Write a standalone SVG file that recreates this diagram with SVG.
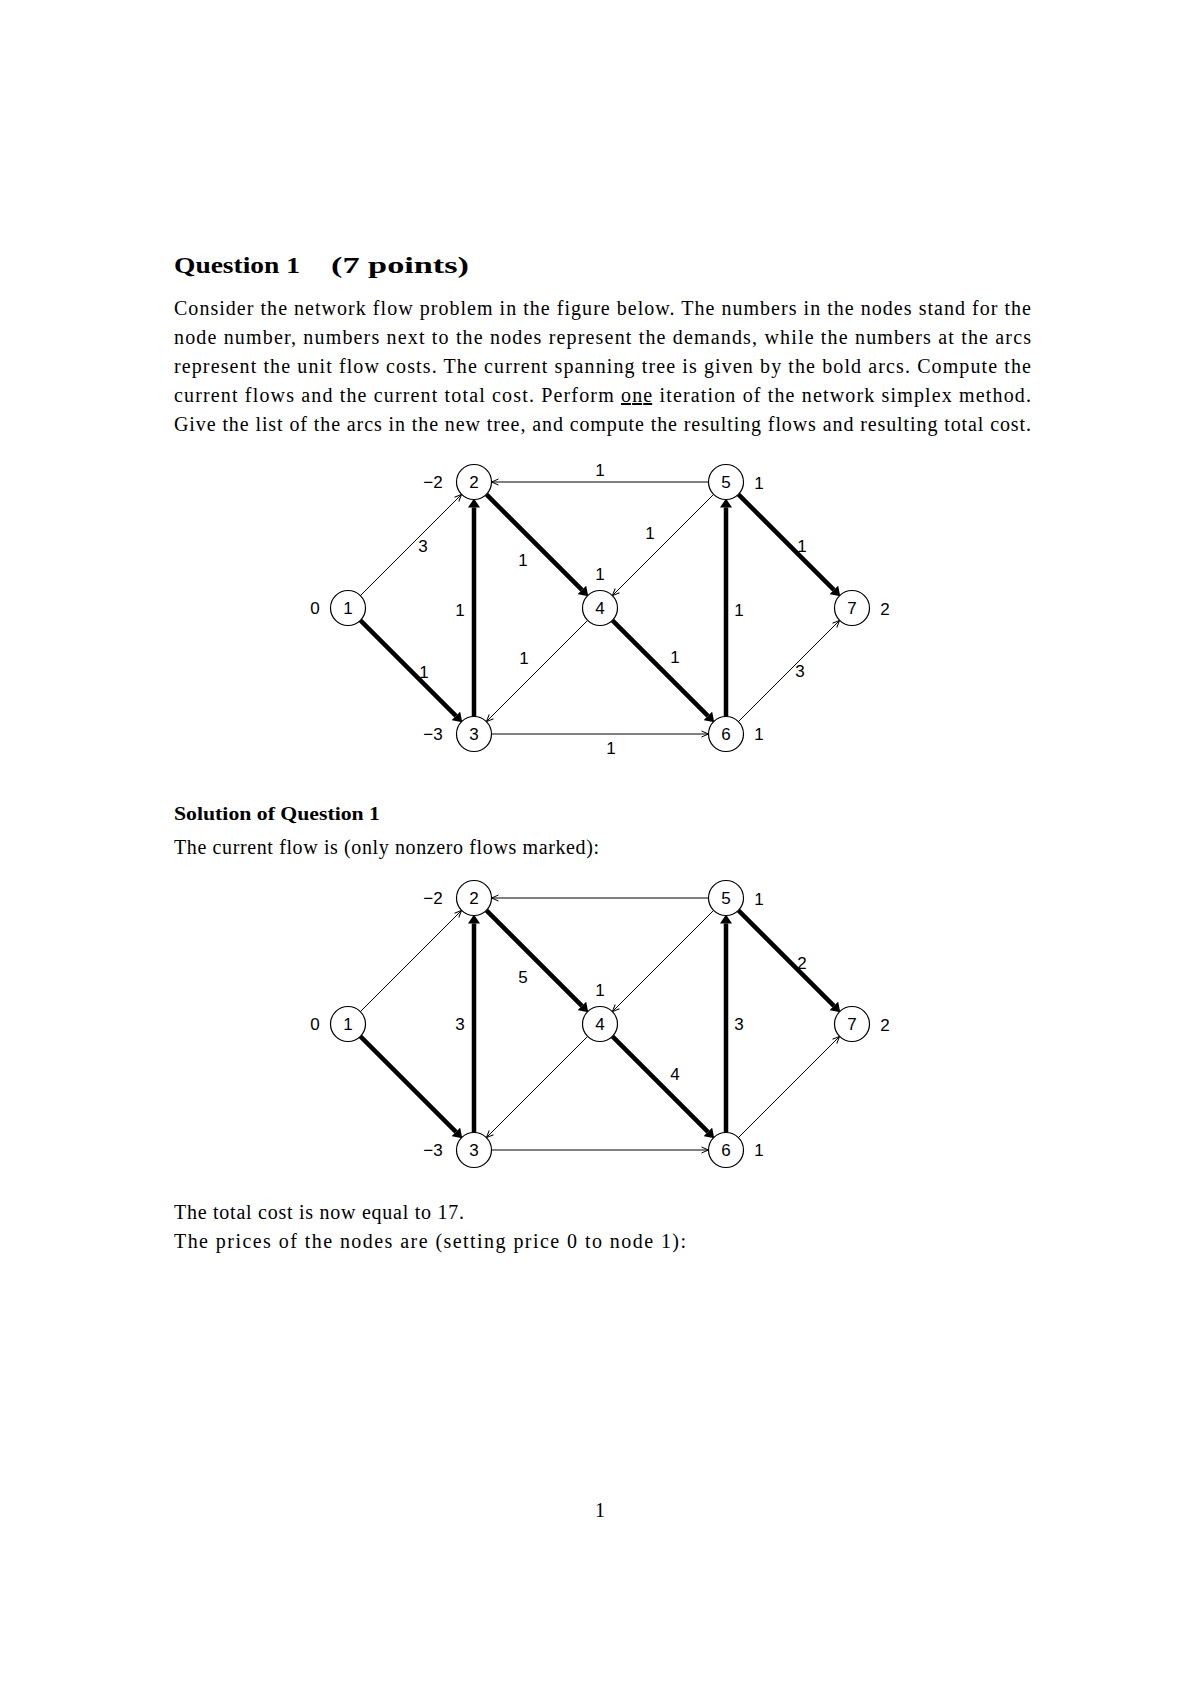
<svg xmlns="http://www.w3.org/2000/svg" width="1200" height="1696" viewBox="0 0 1200 1696">
<style>
.body{font-family:"Liberation Serif","DejaVu Serif",serif;font-size:20px;fill:#000}
.head{font-family:"Liberation Serif","DejaVu Serif",serif;font-weight:bold;fill:#000}
.lbl{font-family:"Liberation Sans","DejaVu Sans",sans-serif;font-size:17px;fill:#000;text-anchor:middle}
.node circle{fill:#fff;stroke:#000;stroke-width:1.2}
.thin{stroke:#000;stroke-width:1;fill:none}
.bold{stroke:#000;stroke-width:4.5;fill:none}
</style>
<defs>
<marker id="at" markerUnits="userSpaceOnUse" viewBox="0 0 7 6" markerWidth="7" markerHeight="6" refX="7" refY="3" orient="auto" overflow="visible">
<path d="M0,0 L7,3 L0,6" fill="none" stroke="#000" stroke-width="1"/>
</marker>
<marker id="ab" markerUnits="userSpaceOnUse" viewBox="0 0 9 12" markerWidth="9" markerHeight="12" refX="0" refY="6" orient="auto">
<path d="M0,0 L9,6 L0,12 z" fill="#000"/>
</marker>
<g id="graph">
<g id="connectors">
<path class="thin" marker-end="url(#at)" d="M360.4,595.6 L461.6,494.4"/>
<path class="bold" marker-end="url(#ab)" d="M360.4,620.4 L455.9,715.9"/>
<path class="bold" marker-end="url(#ab)" d="M474,716.5 L474,507.5"/>
<path class="bold" marker-end="url(#ab)" d="M486.4,494.4 L581.9,589.9"/>
<path class="thin" marker-end="url(#at)" d="M708.5,482 L491.5,482"/>
<path class="thin" marker-end="url(#at)" d="M713.6,494.4 L612.4,595.6"/>
<path class="thin" marker-end="url(#at)" d="M587.6,620.4 L486.4,721.6"/>
<path class="thin" marker-end="url(#at)" d="M491.5,734 L708.5,734"/>
<path class="bold" marker-end="url(#ab)" d="M612.4,620.4 L707.9,715.9"/>
<path class="bold" marker-end="url(#ab)" d="M726,716.5 L726,507.5"/>
<path class="bold" marker-end="url(#ab)" d="M738.4,494.4 L833.9,589.9"/>
<path class="thin" marker-end="url(#at)" d="M738.4,721.6 L839.6,620.4"/>
</g>
<g id="n1" class="node"><circle cx="348" cy="608" r="17.5"/><text class="lbl" x="348" y="614">1</text></g>
<g id="n2" class="node"><circle cx="474" cy="482" r="17.5"/><text class="lbl" x="474" y="488">2</text></g>
<g id="n3" class="node"><circle cx="474" cy="734" r="17.5"/><text class="lbl" x="474" y="740">3</text></g>
<g id="n4" class="node"><circle cx="600" cy="608" r="17.5"/><text class="lbl" x="600" y="614">4</text></g>
<g id="n5" class="node"><circle cx="726" cy="482" r="17.5"/><text class="lbl" x="726" y="488">5</text></g>
<g id="n6" class="node"><circle cx="726" cy="734" r="17.5"/><text class="lbl" x="726" y="740">6</text></g>
<g id="n7" class="node"><circle cx="852" cy="608" r="17.5"/><text class="lbl" x="852" y="614">7</text></g>
<g id="demands">
<text class="lbl" x="315" y="614">0</text>
<text class="lbl" x="433" y="488">−2</text>
<text class="lbl" x="433" y="740">−3</text>
<text class="lbl" x="600" y="580">1</text>
<text class="lbl" x="759" y="489">1</text>
<text class="lbl" x="759" y="740">1</text>
<text class="lbl" x="885" y="615">2</text>
</g>
</g>
</defs>

<text class="head" x="174" y="273" font-size="24" textLength="126" lengthAdjust="spacingAndGlyphs">Question 1</text>
<text class="head" x="331" y="273" font-size="24" textLength="138" lengthAdjust="spacingAndGlyphs">(7 points)</text>

<g class="body">
<text class="body" x="174" y="315" textLength="857" lengthAdjust="spacing">Consider the network flow problem in the figure below. The numbers in the nodes stand for the</text>
<text class="body" x="174" y="344" textLength="857" lengthAdjust="spacing">node number, numbers next to the nodes represent the demands, while the numbers at the arcs</text>
<text class="body" x="174" y="373" textLength="857" lengthAdjust="spacing">represent the unit flow costs. The current spanning tree is given by the bold arcs. Compute the</text>
<text class="body" x="174" y="402" textLength="857" lengthAdjust="spacing">current flows and the current total cost. Perform <tspan text-decoration="underline">one</tspan> iteration of the network simplex method.</text>
<text class="body" x="174" y="431" textLength="857" lengthAdjust="spacing">Give the list of the arcs in the new tree, and compute the resulting flows and resulting total cost.</text>
</g>

<g id="diagram1">
<use href="#graph"/>
<g id="arc-labels-1">
<text class="lbl" x="600" y="476">1</text>
<text class="lbl" x="423" y="552">3</text>
<text class="lbl" x="523" y="566">1</text>
<text class="lbl" x="460" y="616">1</text>
<text class="lbl" x="524" y="664">1</text>
<text class="lbl" x="424" y="678">1</text>
<text class="lbl" x="650" y="539">1</text>
<text class="lbl" x="802" y="552">1</text>
<text class="lbl" x="739" y="616">1</text>
<text class="lbl" x="675" y="663">1</text>
<text class="lbl" x="800" y="677">3</text>
<text class="lbl" x="611" y="754">1</text>
</g>
</g>

<text class="head" x="174" y="820" font-size="19" textLength="206" lengthAdjust="spacingAndGlyphs">Solution of Question 1</text>
<text class="body" x="174" y="854" textLength="425" lengthAdjust="spacing">The current flow is (only nonzero flows marked):</text>

<g id="diagram2" transform="translate(0,416)">
<use href="#graph"/>
<g id="arc-labels-2">
<text class="lbl" x="523" y="567">5</text>
<text class="lbl" x="460" y="614">3</text>
<text class="lbl" x="802" y="553">2</text>
<text class="lbl" x="739" y="614">3</text>
<text class="lbl" x="675" y="664">4</text>
</g>
</g>

<text class="body" x="174" y="1219" textLength="290" lengthAdjust="spacing">The total cost is now equal to 17.</text>
<text class="body" x="174" y="1248" textLength="512" lengthAdjust="spacing">The prices of the nodes are (setting price 0 to node 1):</text>

<text class="body" x="600" y="1517" text-anchor="middle">1</text>
</svg>
